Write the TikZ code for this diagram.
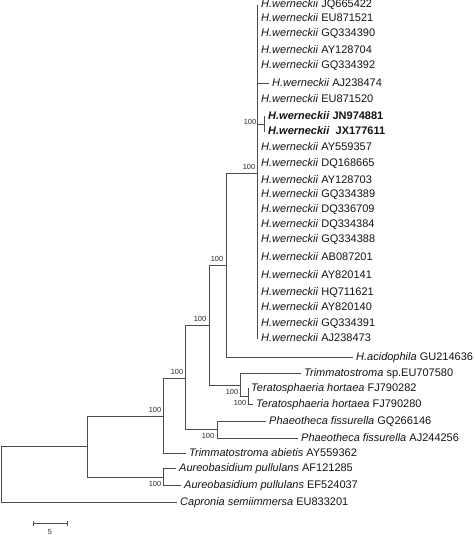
\documentclass[tikz,border=0pt]{standalone}
\usepackage{fontspec}
\setmainfont{Liberation Sans}
\begin{document}
\begin{tikzpicture}[x=1pt,y=-1pt,
  br/.style={draw=black!70, line width=0.9pt},
  tip/.style={anchor=west, inner xsep=3pt, inner ysep=0pt, text height=6pt, text depth=0pt, font=\fontsize{11}{13}\selectfont, text=black!92},
  bs/.style={inner sep=0pt, font=\fontsize{7.4}{8}\selectfont, text=black!85}]
\useasboundingbox (0,0) rectangle (474,535);
% internal nodes
\coordinate (R) at (1.5,473.5);
\coordinate (A) at (87,446);
\coordinate (B) at (163,416);
\coordinate (Au) at (163,477);
\coordinate (C) at (185,378);
\coordinate (P) at (217,429);
\coordinate (D) at (209,325);
\coordinate (F) at (240,385);
\coordinate (T) at (248,396);
\coordinate (E) at (226,265);
\coordinate (W) at (257,173);
\coordinate (J) at (264,124);
% werneckii tips
\foreach \n/\acc/\y in {w1/JQ665422/5, w2/EU871521/19, w3/GQ334390/34, w4/AY128704/50, w5/GQ334392/65, w7/EU871520/99, w10/AY559357/147, w11/DQ168665/163, w12/AY128703/180, w13/GQ334389/194, w14/DQ336709/209, w15/DQ334384/224, w16/GQ334388/239, w17/AB087201/257, w18/AY820141/275, w19/HQ711621/292, w20/AY820140/307, w21/GQ334391/323, w22/AJ238473/338}
  {\node[tip] (\n) at (258,\y) {\textit{H.werneckii} \acc};
   \draw[br] (W) |- (\n.west);}
\node[tip] (w6) at (269,83) {\textit{H.werneckii} AJ238474};
\node[tip] (w8) at (265,116) {\bfseries\textit{H.werneckii} JN974881};
\node[tip] (w9) at (265,131) {\bfseries\textit{H.werneckii}\ \ JX177611};
% other tips
\node[tip] (acid) at (353,357) {\textit{H.acidophila} GU214636};
\node[tip] (tsp) at (301,373) {\textit{Trimmatostroma} sp.EU707580};
\node[tip] (te1) at (248,388) {\textit{Teratosphaeria hortaea} FJ790282};
\node[tip] (te2) at (253,404) {\textit{Teratosphaeria hortaea} FJ790280};
\node[tip] (ph1) at (266,421) {\textit{Phaeotheca fissurella} GQ266146};
\node[tip] (ph2) at (298,438) {\textit{Phaeotheca fissurella} AJ244256};
\node[tip] (tab) at (186,453) {\textit{Trimmatostroma abietis} AY559362};
\node[tip] (au1) at (176,468) {\textit{Aureobasidium pullulans} AF121285};
\node[tip] (au2) at (181,485) {\textit{Aureobasidium pullulans} EF524037};
\node[tip] (cap) at (177,502) {\textit{Capronia semiimmersa} EU833201};
% branches
\draw[br] (R) |- (A);
\draw[br] (R) |- (cap.west);
\draw[br] (A) |- (B);
\draw[br] (A) |- (Au);
\draw[br] (B) |- (C);
\draw[br] (B) |- (tab.west);
\draw[br] (Au) |- (au1.west);
\draw[br] (Au) |- (au2.west);
\draw[br] (C) |- (D);
\draw[br] (C) |- (P);
\draw[br] (P) |- (ph1.west);
\draw[br] (P) |- (ph2.west);
\draw[br] (D) |- (E);
\draw[br] (D) |- (F);
\draw[br] (F) |- (tsp.west);
\draw[br] (F) |- (T);
\draw[br] (T) |- (te1.west);
\draw[br] (T) |- (te2.west);
\draw[br] (E) |- (W);
\draw[br] (E) |- (acid.west);
\draw[br] (W) |- (w6.west);
\draw[br] (W) |- (J);
\draw[br] (J) |- (w8.west);
\draw[br] (J) |- (w9.west);
% bootstrap values
\node[bs] (bE) at (217,259) {100};
\node[bs] (bW) at (249,167) {100};
\node[bs] (bJ) at (250,122) {100};
\node[bs] (bD) at (200,319) {100};
\node[bs] (bC) at (177,372) {100};
\node[bs] (bB) at (155,410) {100};
\node[bs] (bF) at (232,392) {100};
\node[bs] (bT) at (240,403) {100};
\node[bs] (bP) at (208,436) {100};
\node[bs] (bAu) at (155,484) {100};
% scale bar
\coordinate (sbL) at (33,523);
\coordinate (sbR) at (67,523);
\draw[br] (sbL) -- (sbR);
\draw[br] ([yshift=-2.5pt]sbL) -- ([yshift=2.5pt]sbL);
\draw[br] ([yshift=-2.5pt]sbR) -- ([yshift=2.5pt]sbR);
\node[bs] (sb) at (50,532) {5};
\end{tikzpicture}
\end{document}
